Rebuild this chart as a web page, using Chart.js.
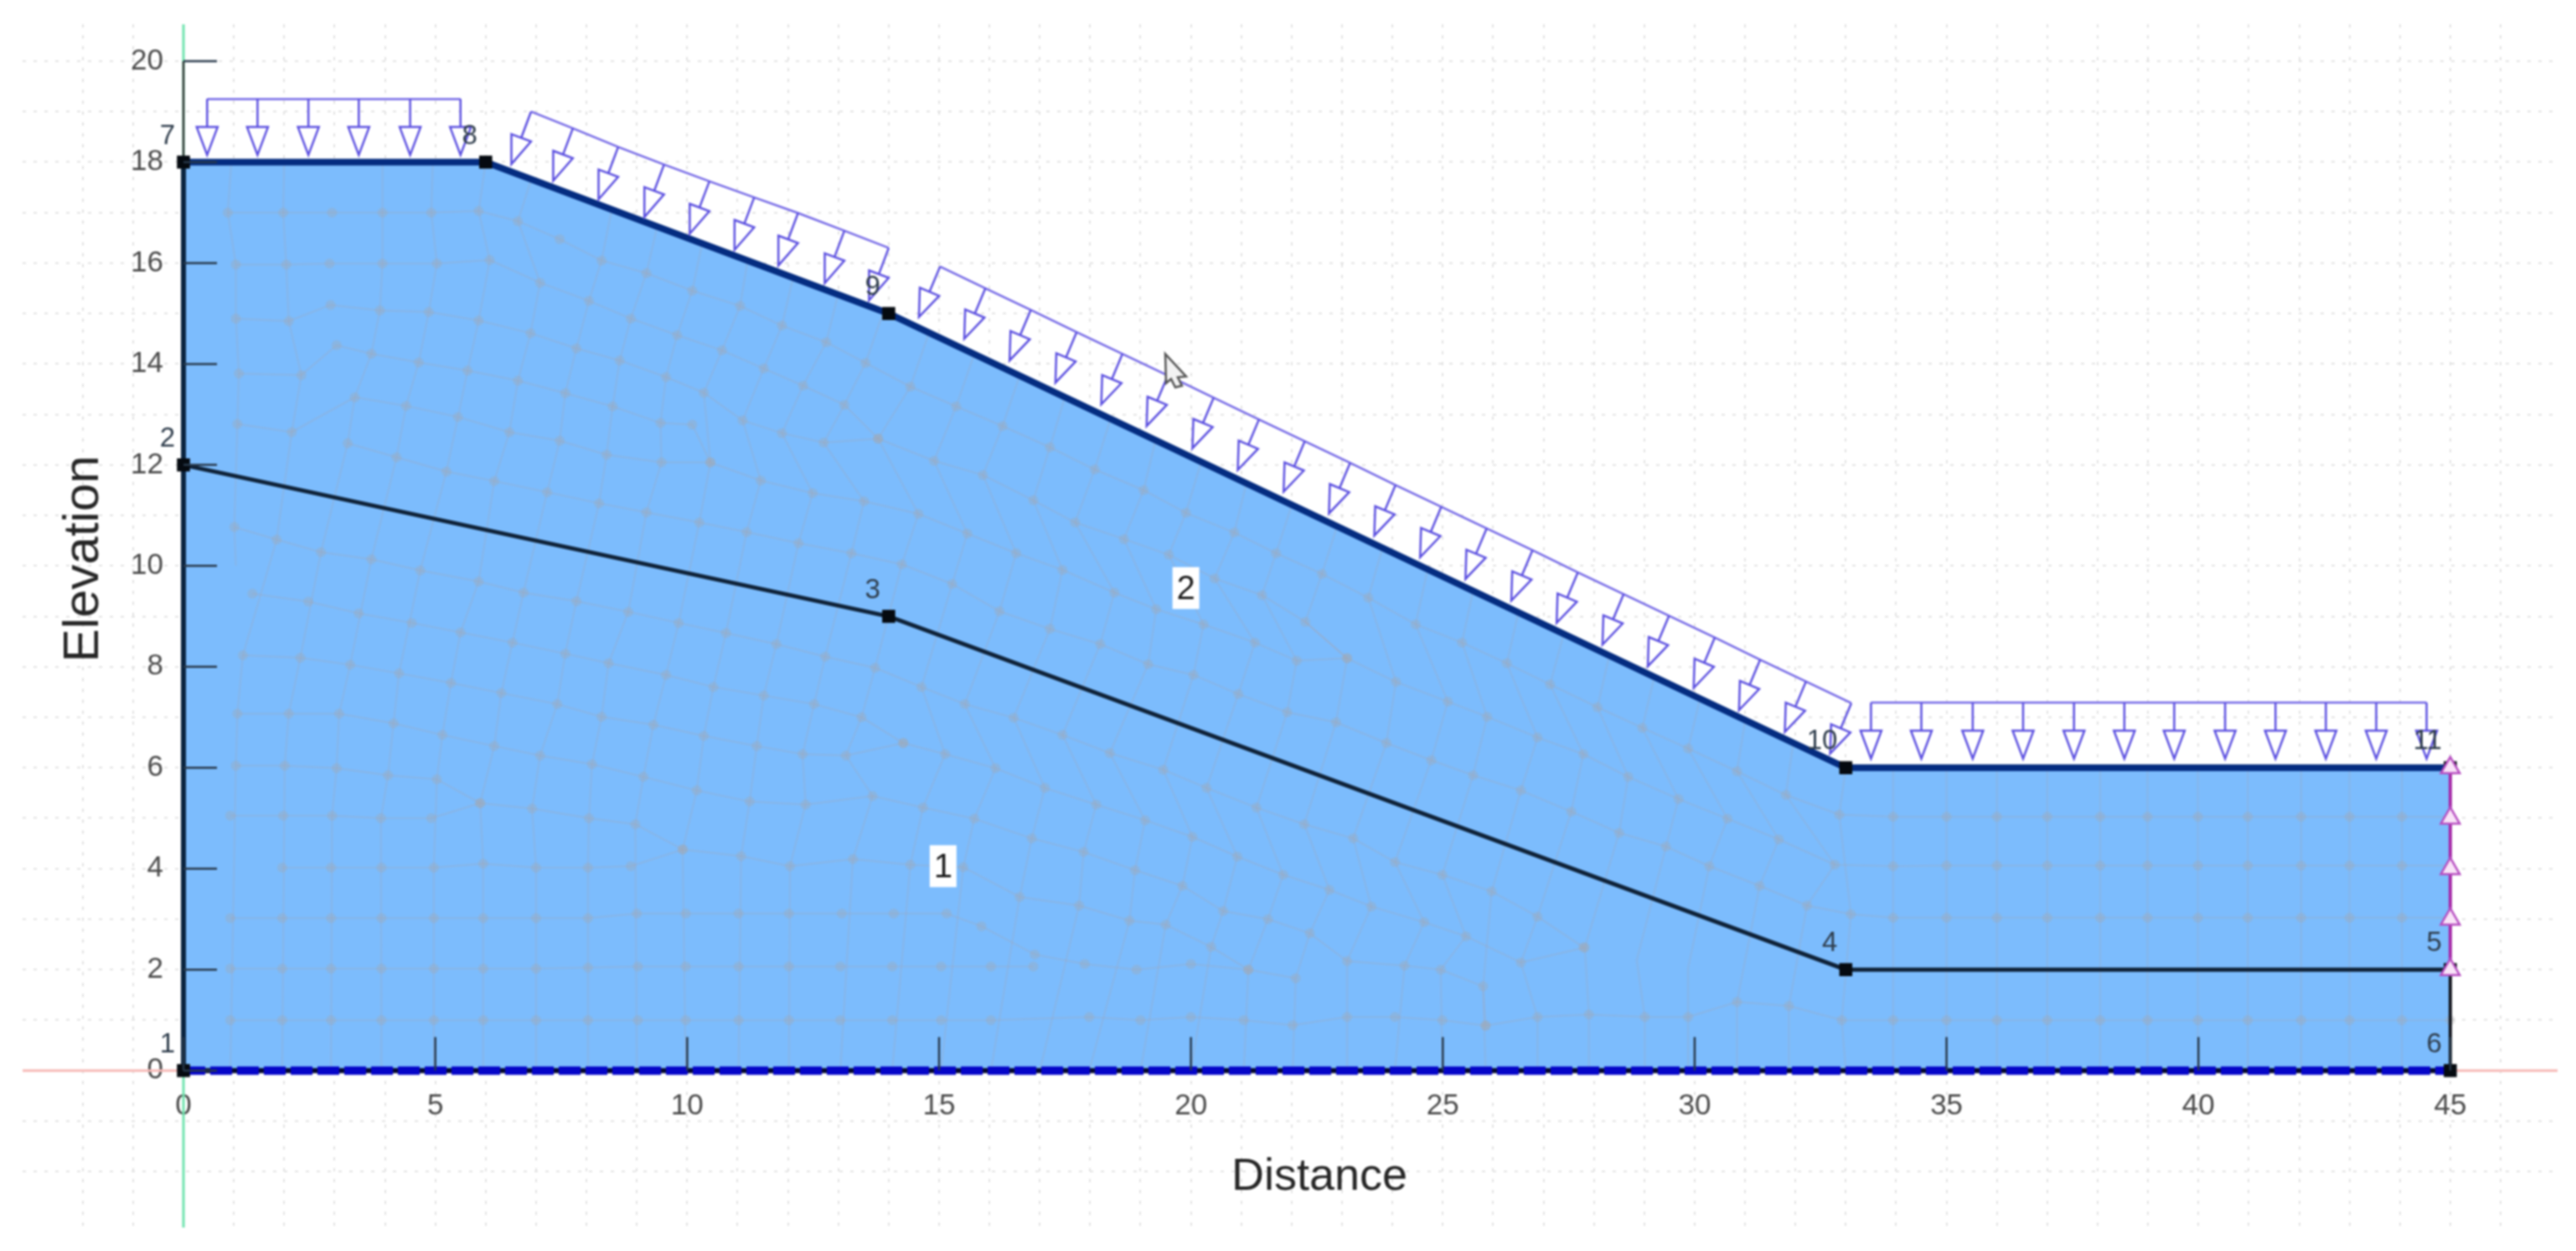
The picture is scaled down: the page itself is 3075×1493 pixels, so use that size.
<!DOCTYPE html>
<html>
<head>
<meta charset="utf-8">
<style>
  html, body { margin: 0; background: #fff; }
  canvas { display: block; filter: blur(0.8px); }
</style>
<script src="https://cdn.jsdelivr.net/npm/chart.js@4"></script>
</head>
<body>
<canvas id="myChart" width="3075" height="1493"></canvas>
<script>
const xTickLabels = [0, 5, 10, 15, 20, 25, 30, 35, 40, 45];
const yTickLabels = [0, 2, 4, 6, 8, 10, 12, 14, 16, 18, 20];

// slope profile and layer boundary
const surfaceX = [0, 6, 14, 33, 45];
const surfaceY = [18, 18, 15, 6, 6];
const interfaceX = [0, 14, 33, 45];
const interfaceY = [12, 9, 2, 2];

// numbered points
const pointIds = ['1', '2', '3', '4', '5', '6', '7', '8', '9', '10', '11'];
const pointX = [0, 0, 14, 33, 45, 45, 0, 6, 14, 33, 45];
const pointY = [0, 12, 9, 2, 2, 0, 18, 18, 15, 6, 6];

const regionIds = ['1', '2'];
const regionX = [15.08, 19.9];
const regionY = [4.05, 9.56];

// distributed loads: where each arrow starts
const loadTopX = [
  [0.47, 1.47, 2.48, 3.48, 4.5, 5.5],
  [6.9, 7.73, 8.63, 9.54, 10.44, 11.33, 12.2, 13.12, 14.0],
  [15.02, 15.92, 16.82, 17.73, 18.64, 19.54, 20.45, 21.35, 22.26, 23.16, 24.06, 24.97, 25.87, 26.78, 27.68, 28.59, 29.49, 30.4, 31.3, 32.21, 33.11],
  [33.5, 34.5, 35.52, 36.52, 37.53, 38.53, 39.52, 40.53, 41.53, 42.53, 43.53, 44.53]
];
const loadTopY = [
  [19.25, 19.25, 19.25, 19.25, 19.25, 19.25],
  [19.0, 18.67, 18.3, 17.95, 17.62, 17.3, 16.99, 16.64, 16.3],
  [15.93, 15.5, 15.07, 14.63, 14.2, 13.77, 13.33, 12.9, 12.47, 12.04, 11.6, 11.17, 10.74, 10.31, 9.87, 9.44, 9.01, 8.58, 8.14, 7.71, 7.28],
  [7.29, 7.29, 7.29, 7.29, 7.29, 7.29, 7.29, 7.29, 7.29, 7.29, 7.29, 7.29]
];
const loadDropX = [0, -0.39, -0.42, 0];
const loadDropY = [-1.11, -1.04, -1.0, -1.11];

const boundaryY = [6, 5, 4, 3, 2];
const boundaryX = [45, 45, 45, 45, 45];

const cursorAt = [19.49, 14.2];

// finite element mesh: x,y,x,y...
const meshRows = [
  [0.88,17, 1.98,17, 2.95,17, 3.95,17, 4.92,17, 5.86,17.03, 6.64,16.83, 7.47,16.47, 8.3,16.05, 9.19,15.8, 10.1,15.45, 11.05,15.15, 11.88,14.76, 12.76,14.43, 13.54,14.02, 14.43,13.55, 15.34,13.16, 16.26,12.77, 17.2,12.35, 18.09,11.91, 19.06,11.5, 19.9,11.05, 20.86,10.66, 21.69,10.25, 22.6,9.84, 23.52,9.37, 24.46,8.84, 25.38,8.48, 26.27,8.07, 27.13,7.65, 28.07,7.2, 28.96,6.79, 29.87,6.38, 30.84,5.93, 31.81,5.46, 32.87,5.07, 33.94,5.03, 35,5.03, 36,5.03, 37,5.03, 38.05,5.03, 38.99,5.03, 39.99,5.03, 40.98,5.03, 42.04,5.03, 43,5.03, 44.04,5.03, 45,5.03],
  [1.04,15.97, 2.04,15.97, 2.9,15.99, 3.95,15.99, 5.03,15.99, 6.08,16.06, 7.08,15.61, 8.05,15.25, 8.88,14.9, 9.8,14.57, 10.69,14.27, 11.52,13.91, 12.3,13.57, 13.12,13.19, 13.79,12.52],
  [1.04,14.9, 2.09,14.85, 2.92,15.17, 3.9,15.06, 4.87,15.03, 5.86,14.86, 6.89,14.61, 7.8,14.31, 8.66,14.07, 9.58,13.74, 10.33,13.43, 11.1,12.88, 11.88,12.63, 12.71,12.44, 13.79,12.52, 14.9,12.08, 15.87,11.8, 16.87,11.3, 17.7,10.86, 18.67,10.53, 19.56,10.22, 20.47,9.75, 21.41,9.42, 22.27,8.89, 23.1,8.17, 24.07,7.7, 25.1,7.31, 25.88,7.01, 26.88,6.6, 27.79,6.27, 28.68,5.82, 29.68,5.38, 30.65,4.99, 31.67,4.58, 32.78,4.08, 33.94,4.05, 35,4.06, 36,4.06, 37,4.06, 38.05,4.06, 38.99,4.06, 39.99,4.06, 40.98,4.06, 42.04,4.06, 43,4.06, 44.04,4.06, 45,4.06],
  [1.1,13.81, 2.34,13.78, 3.04,14.37, 3.73,14.2, 4.67,14.03, 5.64,13.87, 6.64,13.67, 7.58,13.42, 8.52,13.16, 9.47,12.83, 10.1,12.8, 10.46,12.05, 11.46,11.69, 12.49,11.44, 13.51,11.28, 14.59,11.03, 15.56,10.64, 16.53,10.25, 17.45,9.92, 18.48,9.47, 19.31,9.14, 20.25,8.84, 21.27,8.48, 22.1,8.12, 23.1,8.17],
  [1.07,12.81, 2.15,12.65, 3.4,13.34, 4.42,13.17, 5.45,12.95, 6.47,12.65, 7.47,12.48, 8.4,12.2, 9.49,12.05, 10.46,12.05],
  [3.26,12.43, 4.23,12.15, 5.22,11.87, 6.17,11.68, 7.22,11.46, 8.25,11.24, 9.19,11.06, 10.24,10.86, 11.18,10.67, 12.21,10.45, 13.26,10.25, 14.26,10.03, 15.26,9.64, 16.2,9.1, 17.2,8.75, 18.2,8.45, 19.15,8.05, 20.05,7.84, 20.94,7.46, 21.91,7.1, 22.88,6.9, 23.88,6.49, 24.77,6.15, 25.6,5.85, 26.55,5.55, 27.55,5.13, 28.5,4.71, 29.43,4.44, 30.29,4.05, 31.29,3.66, 32.23,3.27, 33.1,3.1, 33.94,3.03, 35,3.03, 36,3.03, 37,3.03, 38.05,3.03, 38.99,3.03, 39.99,3.03, 40.98,3.03, 42.04,3.03, 43,3.03, 44.04,3.03, 45,3.03],
  [1.01,10.77, 1.85,10.52, 2.73,10.27, 3.73,10.13, 4.7,9.91, 5.86,9.69, 6.75,9.47, 7.8,9.3, 8.83,9.09, 9.83,8.87, 10.77,8.67, 11.77,8.45, 12.74,8.2, 13.73,7.98, 14.65,7.6, 15.51,7.26, 16.48,6.99, 17.45,6.65, 18.39,6.29, 19.45,5.96, 20.31,5.6, 21.3,5.21, 22.25,4.88, 23.22,4.6, 24.05,4.13, 24.99,3.88, 25.97,3.55, 26.88,3.05, 27.79,2.44],
  [1.37,9.45, 2.48,9.29, 3.48,9.06, 4.53,8.87, 5.5,8.68, 6.53,8.48, 7.58,8.26, 8.44,8.07, 9.58,7.84, 10.52,7.6, 11.52,7.43, 12.52,7.26, 13.46,7, 14.29,6.49, 15.12,6.27, 16.12,5.99, 17.1,5.6, 18.12,5.27, 19.09,4.96, 20.03,4.63, 20.92,4.24, 21.83,3.88, 22.75,3.58, 23.58,3.25, 24.63,2.94, 25.46,2.66, 26.55,2.14, 27.82,2.44],
  [1.18,8.23, 2.32,8.18, 3.31,8.04, 4.28,7.87, 5.31,7.68, 6.31,7.48, 7.42,7.26, 8.3,7.01, 9.33,6.85, 10.33,6.63, 11.38,6.43, 12.29,6.27, 13.15,6.24, 14.29,6.49],
  [1.07,7.07, 2.09,7.07, 3.09,7.07, 4.17,6.88, 5.14,6.65, 6.17,6.43, 7.08,6.24, 8.11,6.07, 9.13,5.82, 10.19,5.55, 11.24,5.33, 12.35,5.27, 13.68,5.44, 14.68,5.21, 15.7,4.99, 16.84,4.6, 17.87,4.33, 18.89,3.97, 19.83,3.66, 20.64,3.16, 21.53,3, 22.36,2.72, 23.1,2.17, 24.24,2.08, 24.96,2, 25.8,1.67, 25.85,0.89],
  [1.04,6.04, 2.01,6.04, 3.04,5.99, 4.06,5.85, 5.03,5.77, 5.89,5.3, 6.92,5.19, 8.05,5, 8.97,4.88, 9.91,4.38, 11.07,4.25, 12.04,4.05, 13.29,4.19, 14.43,4.08, 15.48,4.03, 16.6,3.44, 17.78,3.27, 18.78,2.97, 19.5,2.89, 20.4,2.45, 21.14,2, 22.08,1.83],
  [0.93,5.05, 1.98,5.05, 2.95,5.05, 3.92,5, 4.92,5, 5.89,5.3],
  [1.96,4.02, 2.93,4.02, 3.93,4.02, 4.97,4.02, 5.95,4.1, 7,4.02, 8.03,4.02, 8.88,4.05, 9.91,4.38],
  [0.93,3.02, 1.96,3.02, 2.93,3.02, 3.93,3.02, 4.97,3.02, 5.95,3.02, 7,3.02, 8.03,3.02, 9,3.11, 9.97,3.11, 11.02,3.11, 12.02,3.11, 13.07,3.11, 14.1,3.11, 15.15,3.11, 15.84,2.86, 16.9,2.3, 17.89,2.11, 18.92,2, 20,2.11, 21.14,2],
  [0.93,2.02, 1.96,2.02, 2.93,2.02, 3.93,2.02, 4.97,2.02, 5.95,2.02, 7,2.02, 8.03,2.04, 9.02,2.06, 9.97,2.06, 11.02,2.06, 12.02,2.06, 13.04,2.06, 14.07,2.06, 15.04,2.06, 16.03,2.06, 16.87,2.06],
  [0.93,1, 1.96,1, 2.93,1, 3.93,1, 4.97,1, 5.95,1, 7,1, 8.03,1, 9.02,1, 9.97,1, 11.02,1, 12.02,1, 13.04,1, 14.07,1, 15.04,1, 16.03,1, 17.98,1.06, 19,1, 20,1.06, 21.05,1, 22.02,0.9, 23.1,1.06, 24.05,1.06, 24.99,1, 25.85,0.89, 26.88,1.06, 27.9,1.11, 29.01,1.06, 29.87,1.06, 30.84,1.36, 31.87,1.28, 32.92,1, 33.94,1, 35,1, 36,1, 37,1, 38.05,1, 38.99,1, 39.99,1, 40.98,1, 42.04,1, 43,1, 44.04,1, 45,1]
];
const meshColumns = [
  [0.93,0, 1.04,6.04, 1.07,7.07, 1.18,8.23, 1.85,10.52, 2.15,12.65, 2.34,13.78, 2.09,14.85, 2.04,15.97, 1.98,17, 2,18],
  [1.04,10, 1.01,10.77, 1.07,12.81, 1.1,13.81, 1.04,14.9, 1.04,15.97, 0.88,17, 0.95,18],
  [1.96,0, 2.01,6.04, 2.09,7.07, 2.32,8.18, 2.73,10.27, 3.26,12.43, 3.4,13.34, 3.73,14.2, 3.9,15.06, 3.95,15.99, 3.95,17, 3.95,18],
  [2.93,0, 2.95,5.05, 3.04,5.99, 3.09,7.07, 3.31,8.04, 3.73,10.13, 4.23,12.15, 4.42,13.17, 4.67,14.03, 4.87,15.03, 5.03,15.99, 4.92,17, 4.95,18],
  [3.93,0, 3.92,5, 4.06,5.85, 4.17,6.88, 4.28,7.87, 4.7,9.91, 5.22,11.87, 5.45,12.95, 5.64,13.87, 5.86,14.86, 6.08,16.06, 5.86,17.03, 6,18],
  [4.97,0, 4.97,4.02, 5.03,5.77, 5.14,6.65, 5.31,7.68, 5.5,8.68, 5.86,9.69, 6.17,11.68, 6.47,12.65, 6.64,13.67, 6.89,14.61, 7.08,15.61, 6.64,16.83, 6.9,17.65],
  [5.95,0, 5.95,4.1, 5.89,5.3, 6.17,6.43, 6.31,7.48, 6.53,8.48, 6.75,9.47, 7.22,11.46, 7.47,12.48, 7.58,13.42, 7.8,14.31, 8.05,15.25, 8.3,16.05, 8.5,17.05],
  [7,0, 7,4.02, 6.92,5.19, 7.08,6.24, 7.42,7.26, 7.58,8.26, 7.8,9.3, 8.25,11.24, 8.4,12.2, 8.52,13.16, 8.66,14.07, 8.88,14.9, 9.19,15.8, 9.4,16.7],
  [8.03,0, 8.03,4.02, 8.05,5, 8.11,6.07, 8.3,7.01, 8.44,8.07, 8.83,9.09, 9.19,11.06, 9.49,12.05, 9.47,12.83, 9.58,13.74, 9.8,14.57, 10.1,15.45, 10.3,16.4],
  [9,0, 8.97,4.88, 9.13,5.82, 9.33,6.85, 9.58,7.84, 9.83,8.87, 10.24,10.86, 10.46,12.05, 10.33,13.43, 10.69,14.27, 11.05,15.15, 11.2,16.05],
  [9.97,0, 9.91,4.38, 10.19,5.55, 10.33,6.63, 10.52,7.6, 10.77,8.67, 11.18,10.67, 11.46,11.69, 11.1,12.88, 11.52,13.91, 11.88,14.76, 12.1,15.7],
  [11.02,0, 11.07,4.25, 11.24,5.33, 11.38,6.43, 11.52,7.43, 11.77,8.45, 12.21,10.45, 12.49,11.44, 11.88,12.63, 12.3,13.57, 12.76,14.43, 13,15.4],
  [12.02,0, 12.04,4.05, 12.35,5.27, 12.29,6.27, 12.52,7.26, 12.74,8.2, 13.26,10.25, 13.51,11.28, 12.71,12.44, 13.12,13.19, 13.54,14.02, 13.9,15.05],
  [13.04,0, 13.29,4.19, 13.68,5.44, 13.15,6.24, 13.46,7, 13.73,7.98, 14.26,10.03, 14.59,11.03, 13.79,12.52, 14.43,13.55, 14.8,14.62],
  [14.07,0, 14.43,4.08, 14.68,5.21, 15.12,6.27, 14.65,7.6, 15.26,9.64, 15.56,10.64, 14.9,12.08, 15.34,13.16, 15.7,14.2],
  [15.04,0, 15.48,4.03, 15.7,4.99, 16.12,5.99, 15.51,7.26, 16.2,9.1, 16.53,10.25, 15.87,11.8, 16.26,12.77, 16.6,13.77],
  [16.03,0, 16.6,3.44, 16.84,4.6, 17.1,5.6, 16.48,6.99, 17.2,8.75, 17.45,9.92, 16.87,11.3, 17.2,12.35, 17.5,13.35],
  [17,0, 17.78,3.27, 17.87,4.33, 18.12,5.27, 17.45,6.65, 18.2,8.45, 18.48,9.47, 17.7,10.86, 18.09,11.91, 18.4,12.9],
  [17.98,0, 18.78,2.97, 18.89,3.97, 19.09,4.96, 18.39,6.29, 19.15,8.05, 19.31,9.14, 18.67,10.53, 19.06,11.5, 19.3,12.5],
  [19,0, 19.5,2.89, 19.83,3.66, 20.03,4.63, 19.45,5.96, 20.05,7.84, 20.25,8.84, 19.56,10.22, 19.9,11.05, 20.2,12.05],
  [20,0, 20.4,2.45, 20.64,3.16, 20.92,4.24, 20.31,5.6, 20.94,7.46, 21.27,8.48, 20.47,9.75, 20.86,10.66, 21.1,11.63],
  [21.05,0, 21.14,2, 21.53,3, 21.83,3.88, 21.3,5.21, 21.91,7.1, 22.1,8.12, 21.41,9.42, 21.69,10.25, 22,11.2],
  [22.02,0, 22.08,1.83, 22.36,2.72, 22.75,3.58, 22.25,4.88, 22.88,6.9, 23.1,8.17, 22.27,8.89, 22.6,9.84, 22.9,10.78],
  [23.1,0, 23.1,2.17, 23.58,3.25, 23.22,4.6, 23.88,6.49, 24.07,7.7, 23.52,9.37, 23.8,10.35],
  [24.05,0, 24.24,2.08, 24.63,2.94, 24.05,4.13, 24.77,6.15, 25.1,7.31, 24.46,8.84, 24.7,9.93],
  [24.99,0, 24.96,2, 25.46,2.66, 24.99,3.88, 25.6,5.85, 25.88,7.01, 25.38,8.48, 25.6,9.5],
  [25.85,0, 25.8,1.67, 25.97,3.55, 26.55,5.55, 26.88,6.6, 26.27,8.07, 26.5,9.07],
  [26.88,0, 26.88,1.06, 26.55,2.14, 26.88,3.05, 27.55,5.13, 27.79,6.27, 27.13,7.65, 27.4,8.65],
  [27.9,0, 27.9,1.11, 27.82,2.44, 28.5,4.71, 28.68,5.82, 28.07,7.2, 28.3,8.2],
  [29.01,0, 29.01,1.06, 28.85,2.19, 29.43,4.44, 29.68,5.38, 28.96,6.79, 29.2,7.8],
  [29.87,0, 29.87,1.06, 29.87,2.03, 30.29,4.05, 30.65,4.99, 29.87,6.38, 30.1,7.35],
  [30.84,0, 30.84,1.36, 31.29,3.66, 31.67,4.58, 30.84,5.93, 31,6.92],
  [31.87,0, 31.87,1.28, 32.23,3.27, 32.78,4.08, 31.81,5.46, 31.95,6.45],
  [33,0, 32.92,1, 33.1,3.1, 32.87,5.07, 33,6],
  [33.94,0, 33.94,1, 33.94,3.03, 33.94,5.03, 33.94,6],
  [35,0, 35,1, 35,3.03, 35,5.03, 35,6],
  [36,0, 36,1, 36,3.03, 36,5.03, 36,6],
  [37,0, 37,1, 37,3.03, 37,5.03, 37,6],
  [38.05,0, 38.05,1, 38.05,3.03, 38.05,5.03, 38.05,6],
  [38.99,0, 38.99,1, 38.99,3.03, 38.99,5.03, 38.99,6],
  [39.99,0, 39.99,1, 39.99,3.03, 39.99,5.03, 39.99,6],
  [40.98,0, 40.98,1, 40.98,3.03, 40.98,5.03, 40.98,6],
  [42.04,0, 42.04,1, 42.04,3.03, 42.04,5.03, 42.04,6],
  [43,0, 43,1, 43,3.03, 43,5.03, 43,6],
  [44.04,0, 44.04,1, 44.04,3.03, 44.04,5.03, 44.04,6]
];

const pts = (xs, ys) => xs.map((x, i) => ({ x: x, y: ys[i] }));
const pairs = flat => {
  const out = [];
  for (let i = 0; i < flat.length; i += 2) out.push({ x: flat[i], y: flat[i + 1] });
  return out;
};
const line = (data, color, width, order, extra) => Object.assign({
  data: data, showLine: true, borderColor: color, borderWidth: width,
  pointRadius: 0, order: order, tension: 0
}, extra || {});

const X_MIN = -3.193, X_MAX = 47.13, Y_MIN = -3.11, Y_MAX = 20.73;
const LABEL_FONT = '"Liberation Sans", Arial, sans-serif';

const datasets = [];
datasets.push(line(pts(surfaceX, surfaceY), '#042c80', 8, 5));
datasets.push(line(pts(surfaceX, surfaceY), 'rgba(0,0,0,0)', 0, 90, { fill: 'origin', backgroundColor: '#7cbcfd' }));
datasets.push(line(pts(interfaceX, interfaceY), '#0f2238', 5, 6));
datasets.push(line(pts([0, 45], [-0.001, -0.001]), '#060a30', 6, 4));
datasets.push(line(pts([0, 45], [0, 0]), '#0505c8', 10, 3, { borderDash: [26, 6] }));
datasets.push(line(pts([0, 0], [0, 18]), '#0b2540', 6, 7));
datasets.push(line(pts([0, 0], [18, 20]), '#333333', 2.5, 7));
datasets.push(line(pts([45, 45], [0, 2]), '#141820', 4, 7));
datasets.push(line(pts([45, 45], [2, 6]), '#a52aa8', 4, 6));
datasets.push(line(pts([0, 0], [Y_MIN, Y_MAX]), '#6fe3ad', 3, 80));
datasets.push(line(pts([X_MIN, X_MAX], [0, 0]), '#f7b9b6', 3, 80));
meshRows.forEach(r => datasets.push(line(pairs(r), 'rgba(165,165,178,0.3)', 2, 40, {
  pointRadius: 6, pointBackgroundColor: 'rgba(170,165,165,0.3)', pointBorderWidth: 0
})));
meshColumns.forEach(c => datasets.push(line(pairs(c), 'rgba(165,165,178,0.28)', 2, 40)));
loadTopX.forEach((xs, i) => datasets.push(line(pts(xs, loadTopY[i]), '#7468e6', 2.5, 2)));
datasets.push({
  data: pts(pointX, pointY), showLine: false, pointStyle: 'rect', pointRadius: 11,
  pointBackgroundColor: '#050a10', pointBorderWidth: 0, order: 1
});
datasets.push({
  data: pts(boundaryX, boundaryY), showLine: false, pointStyle: 'triangle', pointRadius: 13,
  pointBackgroundColor: '#f9e3f8', pointBorderColor: '#b64cc0', pointBorderWidth: 2.5, order: 0
});

const drawExtras = {
  id: 'drawExtras',
  afterDatasetsDraw(chart) {
    const ctx = chart.ctx, sx = chart.scales.x, sy = chart.scales.y;
    const px = v => sx.getPixelForValue(v), py = v => sy.getPixelForValue(v);
    ctx.save();

    // tick marks stand inside the plot
    ctx.strokeStyle = '#27384a';
    ctx.lineWidth = 2.5;
    yTickLabels.forEach(v => {
      ctx.beginPath(); ctx.moveTo(px(0), py(v)); ctx.lineTo(px(0) + 40, py(v)); ctx.stroke();
    });
    xTickLabels.forEach(v => {
      ctx.beginPath(); ctx.moveTo(px(v), py(0)); ctx.lineTo(px(v), py(0) - 40); ctx.stroke();
    });

    // load arrows
    ctx.strokeStyle = '#5b4fe0';
    ctx.fillStyle = '#ffffff';
    ctx.lineWidth = 2.5;
    ctx.lineJoin = 'miter';
    loadTopX.forEach((xs, k) => {
      xs.forEach((x, i) => {
        const x0 = px(x), y0 = py(loadTopY[k][i]);
        const x1 = px(x + loadDropX[k]), y1 = py(loadTopY[k][i] + loadDropY[k]);
        const len = Math.hypot(x1 - x0, y1 - y0);
        const nx = -(y1 - y0) / len * 12.5, ny = (x1 - x0) / len * 12.5;
        const bx = x0 + (x1 - x0) * 0.5, by = y0 + (y1 - y0) * 0.5;
        ctx.beginPath(); ctx.moveTo(x0, y0); ctx.lineTo(bx, by); ctx.stroke();
        ctx.beginPath();
        ctx.moveTo(bx + nx, by + ny); ctx.lineTo(bx - nx, by - ny); ctx.lineTo(x1, y1); ctx.closePath();
        ctx.fill(); ctx.stroke();
      });
    });

    // mouse pointer left in the screenshot
    const cx = px(cursorAt[0]), cy = py(cursorAt[1]);
    ctx.fillStyle = '#f2f2f2';
    ctx.strokeStyle = '#555555';
    ctx.lineWidth = 2.5;
    ctx.beginPath();
    ctx.moveTo(cx, cy); ctx.lineTo(cx + 25, cy + 27); ctx.lineTo(cx + 15, cy + 28);
    ctx.lineTo(cx + 20, cy + 38); ctx.lineTo(cx + 12, cy + 40); ctx.lineTo(cx + 7, cy + 30);
    ctx.lineTo(cx + 1, cy + 35); ctx.closePath();
    ctx.fill(); ctx.stroke();

    // point numbers
    ctx.font = '33px ' + LABEL_FONT;
    ctx.fillStyle = '#2f3d4c';
    ctx.textAlign = 'right';
    ctx.textBaseline = 'middle';
    pointIds.forEach((id, i) => ctx.fillText(id, px(pointX[i]) - 10, py(pointY[i]) - 31));

    // region labels on white boxes
    ctx.font = '40px ' + LABEL_FONT;
    ctx.textAlign = 'center';
    regionIds.forEach((id, i) => {
      const x = px(regionX[i]), y = py(regionY[i]);
      ctx.fillStyle = '#ffffff';
      ctx.fillRect(x - 16, y - 25, 32, 50);
      ctx.fillStyle = '#1c1c1c';
      ctx.fillText(id, x, y + 2);
    });

    // axis titles
    ctx.font = '54px ' + LABEL_FONT;
    ctx.fillStyle = '#262626';
    ctx.fillText('Distance', 1575, 1405);
    ctx.font = '60px ' + LABEL_FONT;
    ctx.translate(100, 667);
    ctx.rotate(-Math.PI / 2);
    ctx.fillText('Elevation', 0, 0);
    ctx.restore();
  }
};

const wholeTicks = axis => { axis.ticks = axis.ticks.filter(t => Number.isInteger(t.value)); };
const tickStyle = { color: '#4a4a4a', font: { size: 35, family: LABEL_FONT }, autoSkip: false, maxRotation: 0, stepSize: 1 };
const gridStyle = { color: '#e3e3e3', lineWidth: 2, drawTicks: false };

new Chart(document.getElementById('myChart'), {
  type: 'scatter',
  data: { datasets: datasets },
  options: {
    responsive: false,
    animation: false,
    devicePixelRatio: 1,
    layout: { padding: { left: 27, right: 22, top: 29, bottom: 28 } },
    plugins: { legend: { display: false }, tooltip: { enabled: false } },
    scales: {
      x: {
        type: 'linear', min: X_MIN, max: X_MAX, position: { y: 0 },
        afterBuildTicks: wholeTicks,
        afterFit: s => { s.height = 0; },
        grid: gridStyle,
        border: { display: false, dash: [4, 9] },
        ticks: Object.assign({}, tickStyle, {
          padding: 22,
          callback: v => xTickLabels.includes(v) ? String(v) : ''
        })
      },
      y: {
        type: 'linear', min: Y_MIN, max: Y_MAX, position: { x: -0.4 },
        afterBuildTicks: wholeTicks,
        afterFit: s => { s.width = 0; },
        grid: gridStyle,
        border: { display: false, dash: [4, 9] },
        ticks: Object.assign({}, tickStyle, {
          callback: v => yTickLabels.includes(v) ? String(v) : ''
        })
      }
    }
  },
  plugins: [drawExtras]
});
</script>
</body>
</html>
